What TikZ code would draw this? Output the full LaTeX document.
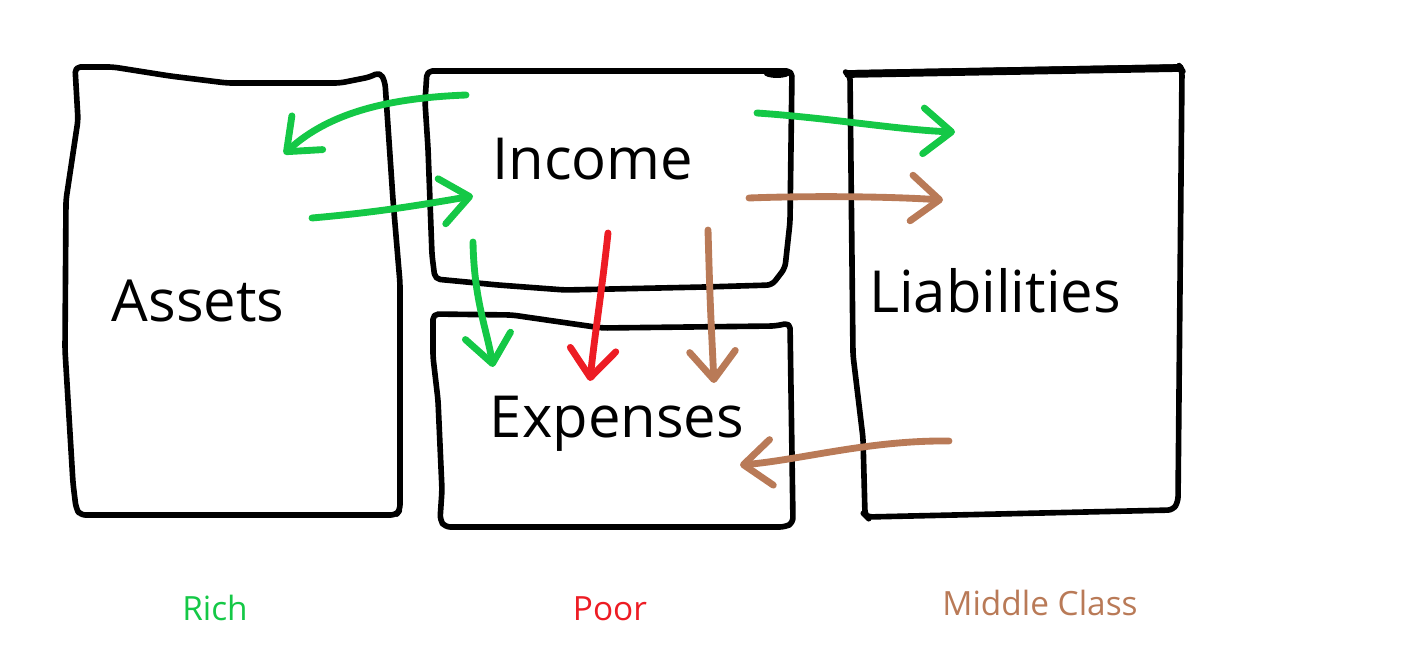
\documentclass[tikz,border=0pt]{standalone}
\usepackage{fontspec}
\setmainfont{Open Sans}
\usetikzlibrary{arrows.meta}
\definecolor{richgreen}{RGB}{20,200,70}
\definecolor{poorred}{RGB}{237,28,36}
\definecolor{midbrown}{RGB}{185,122,87}

\begin{document}
\begin{tikzpicture}[x=0.02cm,y=-0.02cm,
		box/.style={line width=3.2pt,line join=round,rounded corners=3pt},
		flow/.style={line width=3.9pt,line cap=round,-{Straight Barb[round,length=16pt,width=26pt]}},
		word/.style={anchor=base,inner sep=0pt,font=\fontsize{33}{40}\selectfont},
		tag/.style={anchor=base,inner sep=0pt,font=\fontsize{19}{23}\selectfont}]
	\useasboundingbox (0,0) rectangle (1416,672);

	% the four boxes, drawn by hand
	\draw[box] (75,67)--(113,67)--(170,76)--(227,83)--(340,83)--(370,77)--(380,72)--(385,82)--(393,200)--(400,283)--(400,510)--(396,515)--(80,515)--(76,508)--(73,483)--(65,350)--(66,200)--(78,120)--cycle;
	\draw[box] (427,71)--(792,71)--(790,222)--(785,268)--(772,285)--(705,287)--(565,290)--(498,285)--(435,279)--(432,255)--(428,148)--(425,102)--cycle;
	\fill (777,74) ellipse (13 and 4);
	\draw[box] (433,314)--(512,315)--(602,328)--(775,326)--(790,323)--(793,523)--(785,527)--(445,527)--(440,520)--(442,490)--(438,400)--(433,357)--cycle;
	\draw[box] (847,73)--(1180,67)--(1182,70)--(1178,502)--(1173,510)--(867,517)--(865,515)--(863,438)--(853,355)--(850,75)--cycle;
	\draw[line width=4.4pt,line cap=round] (848,74)--(1180,68);

	\node[word] (assets) at (198,321) {Assets};
	\node[word] (income) at (593,180) {Income};
	\node[word] (expenses) at (617,437) {Expenses};
	\node[word] (liab) at (995,312) {Liabilities};

	\node[tag,text=richgreen] (rich) at (215,620) {Rich};
	\node[tag,text=poorred] (poor) at (610,620) {Poor};
	\node[tag,text=midbrown] (middle) at (1040,615) {Middle Class};

	% arrow ends
	\coordinate (g1a) at (466,95);   \coordinate (g1b) at (284,154);
	\coordinate (g2a) at (312,218);  \coordinate (g2b) at (473,196);
	\coordinate (g3a) at (757,113);  \coordinate (g3b) at (955,132);
	\coordinate (g4a) at (473,242);  \coordinate (g4b) at (493,367);
	\coordinate (r1a) at (608,233);  \coordinate (r1b) at (590,381);
	\coordinate (b1a) at (749,198);  \coordinate (b1b) at (943,200);
	\coordinate (b2a) at (708,230);  \coordinate (b2b) at (714,383);
	\coordinate (b3a) at (949,441);  \coordinate (b3b) at (740,465);

	\draw[flow,richgreen] (g1a) .. controls (390,98) and (330,112) .. (g1b);
	\draw[flow,richgreen] (g2a) .. controls (380,212) and (420,205) .. (g2b);
	\draw[flow,richgreen] (g3a) .. controls (830,118) and (900,130) .. (g3b);
	\draw[flow,richgreen] (g4a) .. controls (474,300) and (487,330) .. (g4b);
	\draw[flow,poorred] (r1a) .. controls (602,290) and (594,340) .. (r1b);
	\draw[flow,midbrown] (b1a) .. controls (800,196) and (880,196) .. (b1b);
	\draw[flow,midbrown] (b2a) .. controls (710,300) .. (b2b);
	\draw[flow,midbrown] (b3a) .. controls (870,440) and (800,460) .. (b3b);
\end{tikzpicture}
\end{document}
